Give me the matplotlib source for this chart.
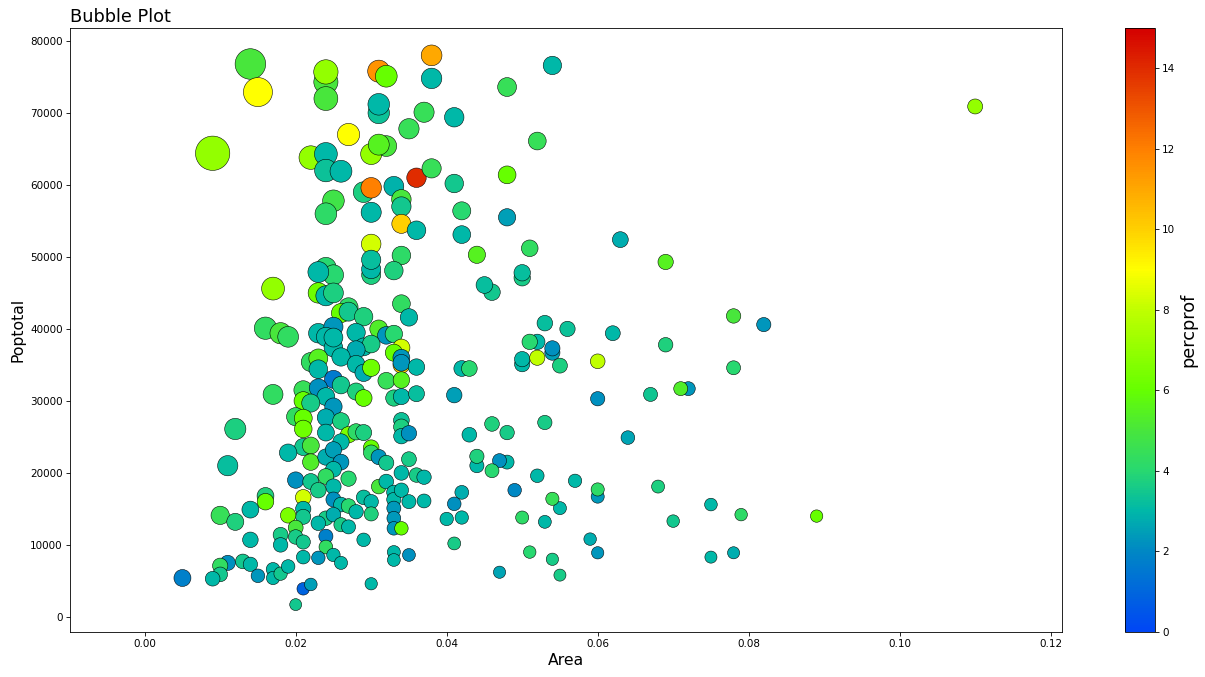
import matplotlib
matplotlib.use("Agg")
import matplotlib.pyplot as plt
import numpy as np
from matplotlib.colors import LinearSegmentedColormap

area = [
    0.014, 0.015, 0.009, 0.024, 0.024, 0.024, 0.031, 0.032, 0.038, 0.038,
    0.031, 0.031, 0.037, 0.035, 0.041, 0.027, 0.022, 0.024, 0.024, 0.026,
    0.030, 0.032, 0.031, 0.036, 0.038, 0.041, 0.042, 0.029, 0.030, 0.033,
    0.034, 0.034, 0.030, 0.025, 0.024, 0.034, 0.036, 0.054, 0.048, 0.052,
    0.048, 0.042, 0.048, 0.063, 0.051, 0.044, 0.069, 0.050, 0.050, 0.046,
    0.045, 0.078, 0.053, 0.056, 0.062, 0.082, 0.052, 0.051, 0.054, 0.054,
    0.050, 0.050, 0.052, 0.055, 0.060, 0.069, 0.078, 0.042, 0.043, 0.041,
    0.060, 0.067, 0.072, 0.071, 0.046, 0.048, 0.043, 0.053, 0.064, 0.044,
    0.044, 0.048, 0.047, 0.046, 0.052, 0.057, 0.060, 0.060, 0.068, 0.042,
    0.041, 0.040, 0.042, 0.049, 0.055, 0.054, 0.050, 0.053, 0.075, 0.079,
    0.070, 0.041, 0.059, 0.060, 0.051, 0.054, 0.055, 0.047, 0.075, 0.078,
    0.089, 0.110,
    0.030, 0.030, 0.030, 0.030, 0.034, 0.033, 0.017, 0.024, 0.025, 0.023,
    0.023, 0.024, 0.025, 0.027, 0.026, 0.027, 0.029, 0.034, 0.035, 0.016,
    0.018, 0.019, 0.023, 0.025, 0.024, 0.028, 0.031, 0.032, 0.033, 0.034,
    0.034, 0.033, 0.034, 0.034, 0.036, 0.029, 0.030, 0.025, 0.025, 0.028,
    0.026, 0.022, 0.023, 0.023, 0.028, 0.029, 0.030, 0.025, 0.026, 0.032,
    0.034, 0.017, 0.021, 0.023, 0.024, 0.028, 0.029, 0.033, 0.034, 0.036,
    0.021, 0.022, 0.025, 0.020, 0.021, 0.024, 0.026, 0.021, 0.024, 0.027,
    0.028, 0.029, 0.026, 0.021, 0.022, 0.030, 0.030, 0.031, 0.032, 0.034,
    0.034, 0.034, 0.035, 0.035, 0.012, 0.011, 0.019, 0.022, 0.024, 0.025,
    0.026, 0.025, 0.020, 0.022, 0.024, 0.027, 0.025, 0.023, 0.021, 0.025,
    0.026, 0.027, 0.029, 0.030, 0.031, 0.032, 0.033, 0.033, 0.033, 0.034,
    0.034, 0.036, 0.037, 0.035, 0.037, 0.030, 0.028, 0.024, 0.023, 0.025,
    0.026, 0.027, 0.021, 0.021, 0.019, 0.020, 0.020, 0.021, 0.024, 0.024,
    0.025, 0.026, 0.023, 0.021, 0.033, 0.033, 0.034, 0.029, 0.033, 0.033,
    0.035, 0.030, 0.018, 0.018, 0.016, 0.016, 0.014, 0.010, 0.012, 0.014,
    0.013, 0.014, 0.011, 0.010, 0.010, 0.009, 0.005, 0.015, 0.017, 0.017,
    0.018, 0.019, 0.021, 0.022, 0.020,
]

poptotal = [
    76800, 72900, 64400, 74300, 72000, 75700, 75800, 75100, 78000, 74800,
    70000, 71200, 70100, 67800, 69400, 67000, 63800, 64300, 62000, 61900,
    64300, 65400, 65600, 61000, 62300, 60200, 56400, 59000, 59600, 59800,
    58000, 57000, 56200, 57800, 56000, 54600, 53700, 76600, 73600, 66100,
    61400, 53100, 55500, 52400, 51200, 50300, 49300, 47100, 47800, 45100,
    46100, 41800, 40800, 40000, 39400, 40600, 38200, 38200, 36700, 37300,
    35100, 35800, 36000, 34900, 35500, 37800, 34600, 34500, 34500, 30800,
    30300, 30900, 31700, 31700, 26800, 25600, 25300, 27000, 24900, 21000,
    22300, 21500, 21700, 20300, 19600, 18900, 16700, 17700, 18100, 17300,
    15700, 13600, 13800, 17600, 15100, 16400, 13800, 13200, 15600, 14200,
    13300, 10200, 10800, 8900, 9000, 8000, 5800, 6200, 8300, 8900,
    14000, 70900,
    51800, 47500, 48300, 49600, 50200, 48100, 45600, 48500, 47500, 47900,
    45000, 44600, 45000, 43000, 42200, 42400, 41700, 43500, 41600, 40100,
    39400, 38900, 39400, 40300, 38900, 39500, 40000, 39100, 39300, 35000,
    37400, 36700, 36000, 35300, 34700, 37500, 37900, 37400, 38800, 37100,
    36100, 35400, 35900, 34400, 35100, 33900, 34600, 33000, 32200, 32800,
    32900, 30900, 31500, 31800, 30600, 31300, 30400, 30400, 30600, 31000,
    30000, 29700, 29200, 27800, 27600, 27700, 27200, 26100, 25600, 25300,
    25700, 25600, 24300, 23600, 23800, 23500, 22800, 22200, 21400, 27300,
    26400, 25100, 25500, 21900, 26100, 21000, 22800, 21500, 22200, 23200,
    21500, 20500, 19000, 18800, 19500, 19200, 18100, 17600, 16600, 16300,
    15600, 15400, 16600, 16000, 18100, 18800, 17300, 16300, 15100, 17600,
    20000, 19700, 19400, 16000, 16100, 14300, 14600, 13700, 13000, 14200,
    12800, 12500, 15000, 13900, 14100, 12400, 11100, 10400, 11200, 9700,
    8600, 7500, 8200, 8300, 13700, 12300, 12300, 10700, 9000, 7900,
    8600, 4600, 11400, 10000, 16800, 16000, 14900, 14100, 13200, 10700,
    7700, 7300, 7500, 7100, 5900, 5300, 5400, 5700, 6600, 5400,
    6000, 7000, 3900, 4500, 1700,
]

percprof = [
    5.0, 9.0, 7.0, 5.0, 5.0, 7.0, 11.5, 6.0, 11.0, 3.0,
    3.3, 3.0, 4.5, 4.5, 3.0, 9.0, 7.0, 3.0, 3.3, 3.0,
    7.0, 5.0, 5.5, 14.0, 4.5, 3.5, 4.0, 3.7, 12.0, 2.9,
    5.0, 3.5, 3.0, 4.8, 4.2, 10.0, 3.0, 3.0, 4.5, 4.5,
    6.0, 3.0, 2.5, 2.8, 4.3, 5.5, 5.5, 3.6, 3.2, 3.5,
    3.2, 5.0, 3.2, 3.3, 3.0, 2.3, 3.0, 4.0, 2.5, 2.2,
    3.0, 3.0, 8.0, 3.7, 8.0, 3.8, 4.0, 3.0, 4.0, 2.5,
    2.2, 3.4, 2.3, 5.3, 3.8, 3.6, 3.0, 3.6, 2.6, 3.0,
    3.8, 3.0, 2.2, 4.0, 3.0, 3.0, 2.4, 4.2, 3.7, 2.8,
    2.2, 3.0, 3.0, 2.0, 3.0, 4.5, 4.2, 3.0, 3.0, 4.2,
    3.5, 3.6, 2.8, 2.3, 4.0, 3.6, 3.6, 2.6, 3.0, 2.8,
    6.0, 7.0,
    8.3, 3.7, 3.0, 3.2, 4.2, 3.8, 7.0, 4.0, 4.0, 3.0,
    6.2, 3.0, 3.7, 4.2, 6.0, 3.5, 3.8, 4.3, 3.0, 4.3,
    5.0, 4.3, 3.0, 2.3, 3.0, 3.0, 5.3, 2.3, 4.0, 10.0,
    8.3, 6.0, 2.3, 2.3, 3.0, 3.0, 3.6, 3.0, 3.0, 2.7,
    3.0, 4.3, 5.5, 3.0, 3.0, 2.8, 6.2, 1.6, 3.5, 4.5,
    5.5, 4.3, 4.5, 2.2, 3.0, 3.8, 6.0, 3.7, 3.0, 3.2,
    6.0, 3.6, 2.3, 4.3, 6.0, 2.8, 3.7, 6.2, 3.0, 6.5,
    4.2, 3.7, 3.0, 3.5, 5.0, 6.0, 4.2, 2.3, 3.5, 3.3,
    3.7, 3.0, 2.2, 3.6, 3.7, 3.2, 3.0, 5.3, 2.8, 2.5,
    2.3, 3.0, 2.2, 3.5, 4.3, 4.0, 3.0, 3.6, 8.3, 2.2,
    3.0, 4.0, 3.2, 3.0, 5.0, 3.0, 3.0, 3.0, 2.4, 3.0,
    3.0, 3.6, 3.0, 3.0, 3.0, 3.8, 3.0, 3.6, 3.0, 2.8,
    3.6, 3.0, 3.0, 3.5, 6.5, 5.0, 3.6, 3.5, 1.8, 4.3,
    3.0, 3.0, 2.3, 3.0, 2.4, 2.4, 6.0, 3.0, 3.0, 3.0,
    2.2, 3.0, 3.6, 3.0, 3.8, 6.0, 3.0, 4.5, 3.8, 3.0,
    3.5, 3.0, 2.2, 4.3, 3.5, 3.0, 1.8, 2.3, 3.0, 3.0,
    3.5, 3.0, 0.9, 2.5, 3.5,
]

area_a = np.array(area)
pop_a = np.array(poptotal)
perc_a = np.array(percprof)
# bubble size scales with population density (poptotal / area)
density = pop_a / area_a / 1e6
sizes = 120 + 135 * density

cmap = LinearSegmentedColormap.from_list(
    "percprof_cmap",
    [(0.0, "#0046f5"), (2/15, "#0088c4"), (3/15, "#00b8a8"), (4/15, "#28d870"),
     (5/15, "#48e63c"), (6/15, "#66ff00"), (8/15, "#c0ff00"), (9/15, "#ffff00"),
     (10/15, "#ffd000"), (12/15, "#ff8000"), (14/15, "#e02c00"), (1.0, "#d40000")])

fig = plt.figure(figsize=(16.08, 9.027), dpi=75)
ax = fig.add_axes([0.058, 0.0665, 0.8226, 0.8921])
cax = fig.add_axes([0.9328, 0.0665, 0.0249, 0.8921])

sc = ax.scatter(area_a, pop_a, s=sizes, c=perc_a, cmap=cmap, vmin=0, vmax=15,
                edgecolors="black", linewidths=0.5)
ax.set_xlim(-0.0099, 0.1215)
ax.set_ylim(-2100, 81800)
ax.set_title("Bubble Plot", loc="left", fontsize=17)
ax.set_xlabel("Area", fontsize=15)
ax.set_ylabel("Poptotal", fontsize=15)
ax.tick_params(labelsize=10)

cb = fig.colorbar(sc, cax=cax)
cb.set_ticks([0, 2, 4, 6, 8, 10, 12, 14])
cb.ax.tick_params(labelsize=10)
cb.set_label("percprof", fontsize=17)

fig.savefig("out.png", dpi=75)
